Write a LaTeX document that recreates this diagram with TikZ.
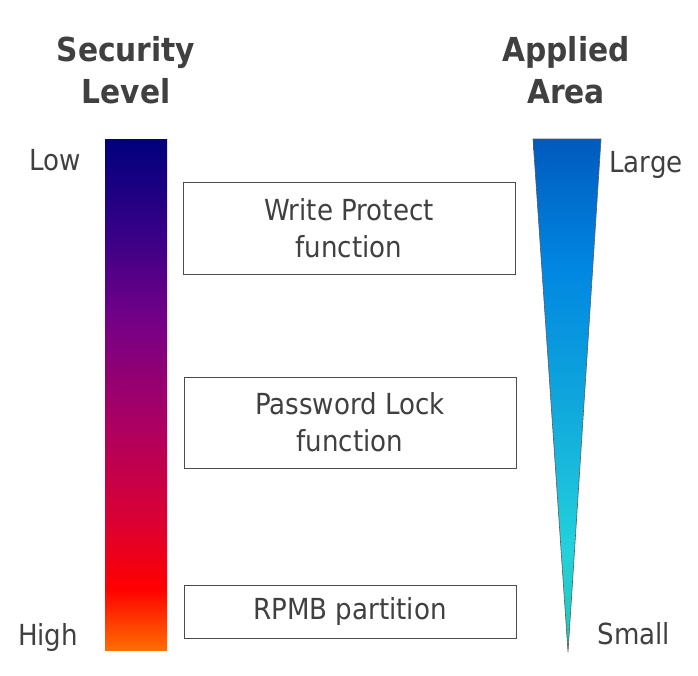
\documentclass[tikz,border=0pt]{standalone}
\usepackage{fontspec}
\setmainfont{DejaVu Sans Condensed}
\definecolor{txt}{RGB}{64,64,64}
\pgfdeclareverticalshading{secshade}{100bp}{
 color(0bp)=(rgb,255:red,255;green,110;blue,0);
 color(25bp)=(rgb,255:red,255;green,110;blue,0);
 color(31bp)=(rgb,255:red,255;green,0;blue,0);
 color(37.5bp)=(rgb,255:red,220;green,0;blue,50);
 color(47.5bp)=(rgb,255:red,170;green,0;blue,100);
 color(57.5bp)=(rgb,255:red,115;green,0;blue,135);
 color(65bp)=(rgb,255:red,60;green,0;blue,135);
 color(75bp)=(rgb,255:red,0;green,0;blue,125);
 color(100bp)=(rgb,255:red,0;green,0;blue,125)}
\pgfdeclareverticalshading{areashade}{100bp}{
 color(0bp)=(rgb,255:red,30;green,200;blue,180);
 color(25bp)=(rgb,255:red,30;green,200;blue,180);
 color(35bp)=(rgb,255:red,35;green,210;blue,220);
 color(50bp)=(rgb,255:red,15;green,165;blue,220);
 color(62.5bp)=(rgb,255:red,0;green,135;blue,225);
 color(75bp)=(rgb,255:red,0;green,90;blue,190);
 color(100bp)=(rgb,255:red,0;green,90;blue,190)}
\tikzset{
 fbox/.style={draw=black!70,line width=0.8pt,text=txt,font=\fontsize{29}{37}\selectfont,align=center,inner sep=0pt},
 title/.style={text=txt,font=\bfseries\fontsize{33}{42}\selectfont,align=center},
 lbl/.style={text=txt,font=\fontsize{29}{34}\selectfont}
}
\begin{document}
\begin{tikzpicture}[x=1pt,y=-1pt]
\useasboundingbox (0,0) rectangle (698,675);
\node[title] (t1) at (126,70) {Security\\Level};
\node[title] (t2) at (566,70) {Applied\\Area};
\shade[shading=secshade] (105,139) rectangle (167,650);
\path[shading=areashade] (533,139) -- (601,139) -- (568,652) -- cycle;
\draw[black!65,line width=0.6pt] (533,139) -- (601,139) -- (568,652) -- cycle;
\node[lbl] (low) at (55,160) {Low};
\node[lbl] (high) at (48,637) {High};
\node[lbl] (large) at (646,165) {Large};
\node[lbl] (small) at (634,634) {Small};
\node[fbox,minimum width=332,minimum height=92] (wp) at (349,228) {Write Protect\\function};
\node[fbox,minimum width=332,minimum height=91] (pl) at (350,422.5) {Password Lock\\function};
\node[fbox,minimum width=332,minimum height=53] (rp) at (350,611.5) {RPMB partition};
\end{tikzpicture}
\end{document}
